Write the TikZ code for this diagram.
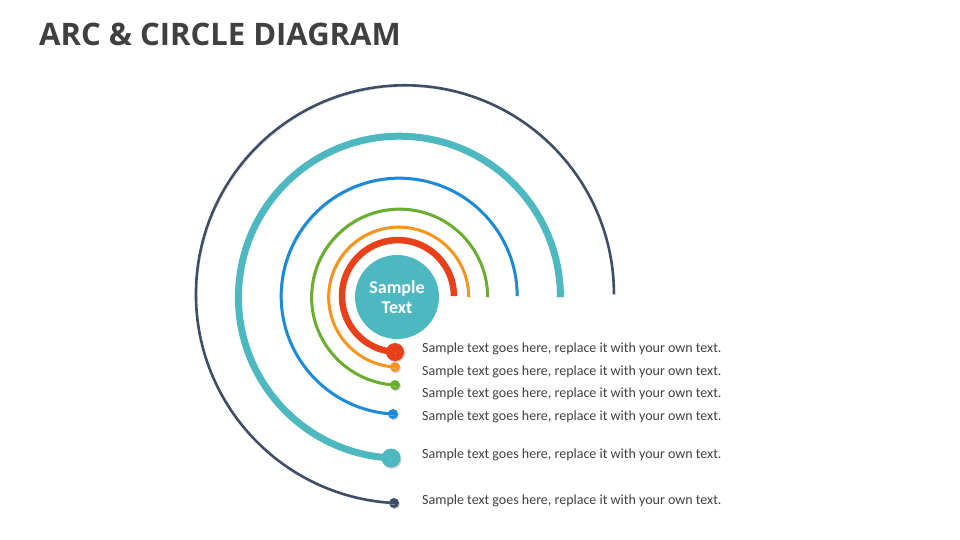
\documentclass[tikz,border=0pt]{standalone}
\usepackage{fontspec}
\setmainfont{Carlito}
\newfontfamily\titlefont{Open Sans}
\usetikzlibrary{positioning}

\definecolor{arcred}{HTML}{E8411A}
\definecolor{arcorange}{HTML}{F7941D}
\definecolor{arcgreen}{HTML}{6AAE2E}
\definecolor{arcblue}{HTML}{1B8BD8}
\definecolor{arcteal}{HTML}{4EB8C1}
\definecolor{arcdark}{HTML}{3E4E66}
\definecolor{txtgray}{HTML}{404040}

\begin{document}
\begin{tikzpicture}[
	x=1pt, y=-1pt,
	text=txtgray,
	arcline/.style={line cap=butt,
		preaction={draw=black!18, transform canvas={shift={(1.2pt,-1.5pt)}}}},
	arcdot/.style={circle, fill=#1, inner sep=0pt,
		preaction={fill=black!18, transform canvas={shift={(1pt,-1.3pt)}}}},
	sampletext/.style={anchor=west, font=\fontsize{14}{16}\selectfont, inner sep=0pt}
	]
	\useasboundingbox (0,0) rectangle (960,540);

	%% title
	\node (title) [anchor=west, font=\titlefont\bfseries\fontsize{31}{35}\selectfont, text=txtgray, inner sep=0pt] at (39,34) {ARC \& CIRCLE DIAGRAM};

	%% centre
	\coordinate (O) at (397,297);
	\node (hub) [circle, fill=arcteal, minimum size=84pt, inner sep=0pt, text=white,
		font=\bfseries\fontsize{18}{20}\selectfont, align=center] at (O) {Sample\\Text};

	%% dots at the lower ends
	\node (darkdot)   [arcdot=arcdark,   minimum size=10pt] at (394,503) {};
	\node (tealdot)   [arcdot=arcteal,   minimum size=19pt] at (391,458) {};
	\node (bluedot)   [arcdot=arcblue,   minimum size=10pt] at (393,414) {};
	\node (greendot)  [arcdot=arcgreen,  minimum size=10pt] at (395,385) {};
	\node (orangedot) [arcdot=arcorange, minimum size=10pt] at (395,367) {};

	%% arcs, outer to inner (y runs downwards, so 90 is the bottom)
	\draw[arcline, arcdark,   line width=2.6pt] (darkdot.center)   arc[start angle=93, end angle=360, radius=209] coordinate (darkstart);
	\draw[arcline, arcteal,   line width=7pt]   (tealdot.center)   arc[start angle=93, end angle=360, radius=161] coordinate (tealstart);
	\draw[arcline, arcblue,   line width=3pt]   (bluedot.center)   arc[start angle=93, end angle=360, radius=118] coordinate (bluestart);
	\draw[arcline, arcgreen,  line width=3pt]   (greendot.center)  arc[start angle=93, end angle=360, radius=88]  coordinate (greenstart);
	\draw[arcline, arcorange, line width=3pt]   (orangedot.center) arc[start angle=93, end angle=360, radius=70]  coordinate (orangestart);
	\node (reddot) [arcdot=arcred, minimum size=18pt] at (395,352) {};
	\draw[arcline, arcred,    line width=6.5pt] (reddot.center)    arc[start angle=93, end angle=360, radius=56]  coordinate (redstart);

	%% texts
	\node (t1) [sampletext] at (422,349) {Sample text goes here, replace it with your own text.};
	\node (t2) [sampletext] at (422,372) {Sample text goes here, replace it with your own text.};
	\node (t3) [sampletext] at (422,394) {Sample text goes here, replace it with your own text.};
	\node (t4) [sampletext] at (422,417) {Sample text goes here, replace it with your own text.};
	\node (t5) [sampletext] at (422,455) {Sample text goes here, replace it with your own text.};
	\node (t6) [sampletext] at (422,501) {Sample text goes here, replace it with your own text.};

\end{tikzpicture}
\end{document}
